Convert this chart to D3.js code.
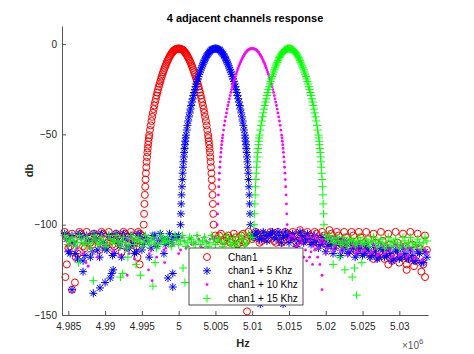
<!DOCTYPE html>
<html>
<head>
<meta charset="utf-8">
<script src="https://cdn.jsdelivr.net/npm/d3@7"></script>
<style>
  body { margin: 0; background: #fff; }
  text { font-family: "Liberation Sans", Arial, Helvetica, sans-serif; }
</style>
</head>
<body>
<div id="chart"></div>
<script>
// global constants
const WIDTH = 474;
const HEIGHT = 354;
const MARGIN = { top: 26, right: 46, bottom: 39, left: 62 };

// channels
const CHANNELS = ["Chan1", "chan1 + 5 Khz", "chan1 + 10 Khz", "chan1 + 15 Khz"];
const CENTERS_MHZ = [5.0, 5.005, 5.01, 5.015];
const MARKERS = ["circle", "asterisk", "dot", "plus"];
const COLORS = ["#ff0000", "#0000ff", "#ff00ff", "#00ff00"];

// ticks
const X_TICKS = [4.985, 4.99, 4.995, 5.0, 5.005, 5.01, 5.015, 5.02, 5.025, 5.03];
const Y_TICKS = [0, -50, -100, -150];

// main lobe, one side (offset from channel centre in kHz, level in dB)
const LOBE_OFFSET_KHZ = [
  0, 0.1, 0.2, 0.3, 0.4, 0.5, 0.6, 0.7, 0.8, 0.9,
  1.0, 1.1, 1.2, 1.3, 1.4, 1.5, 1.6, 1.7, 1.8, 1.9,
  2.0, 2.1, 2.2, 2.3, 2.4, 2.5, 2.6, 2.7, 2.8, 2.9,
  3.0, 3.1, 3.2, 3.3, 3.4, 3.5, 3.6, 3.7, 3.8, 3.9,
  4.0, 4.05, 4.1, 4.15, 4.2, 4.25, 4.3, 4.35, 4.4, 4.45,
  4.5, 4.55, 4.6, 4.65, 4.7, 4.75
];
const LOBE_DB = [
  -2.5, -2.5, -2.6, -2.7, -2.9, -3.1, -3.4, -3.8, -4.3, -4.8,
  -5.4, -6.0, -6.7, -7.5, -8.3, -9.2, -10.1, -11.1, -12.1, -13.2,
  -14.3, -15.5, -16.7, -18.0, -19.3, -20.7, -22.1, -23.6, -25.2, -26.8,
  -28.5, -30.3, -32.1, -34.0, -36.0, -38.1, -40.3, -42.6, -45.0, -47.6,
  -50.4, -52.0, -53.8, -55.7, -57.8, -60.0, -62.5, -65.2, -68.2, -71.5,
  -75.0, -79.0, -83.5, -88.5, -94.0, -100.0
];

// noise floor: kHz from 5 MHz, 1 kHz step, rows A..D shifted by a quarter kHz
const FLOOR_START_KHZ = -15.5;
const ROW_SHIFT_KHZ = [0, 0.25, 0.5, 0.75];

const redFloorA = [
  -104, -105, -104, -104, -105, -104, -104, -105, -104, -104,
  -104, null, null, null, null, null, null, null, null, null,
  null, -106, -107, -105, -106, -104, -104, -105, -104, -104,
  -104, -104, -103, -104, -104, -104, -103, -104, -104, -104,
  -104, -104, -105, -104, -105, -104, -105, -104, -105, -106
];
const redFloorB = [
  -106, -108, -105, -107, -106, -105, -107, -106, -105, -106,
  -105, null, null, null, null, null, null, null, null, null,
  null, -105, -106, -107, -105, -106, -105, -106, -105, -106,
  -105, -106, -105, -106, -105, -106, -105, -106, -107, -106,
  -107, -108, -110, -109, -111, -110, -112, -111, -113, -114
];
const redFloorC = [
  -113, -118, -112, -110, -109, -108, -111, -108, -107, -110,
  -106, null, null, null, null, null, null, null, null, null,
  -106, -109, -110, -111, -110, -108, -110, -108, -109, -110,
  -108, -110, -109, -108, -110, -111, -112, -110, -112, -114,
  -114, -116, -118, -119, -120, -121, -122, -123, -126, null
];
const redFloorD = [
  -112, -116, -113, -111, -114, -110, -112, -115, -111, -112,
  null, null, null, null, null, null, null, null, null, null,
  -108, -109, -108, -110, -109, -107, -109, -108, -110, -109,
  -107, -109, -108, -110, -108, -109, -110, -111, -110, -112,
  -112, -114, -115, -116, -117, -118, -119, -120, -122, null
];
const redDips = [
  [-15.4, -129], [-14.1, -132], [-14.5, -136], [-15.2, -122], [-5.3, -122],
  [-5.6, -118], [9.3, -148], [28.5, -122], [33.5, -129], [31.0, -125], [26.5, -119]
];

const blueFloorA = [
  -105, -106, -105, -106, -105, -105, -106, -105, -105, -106,
  -105, -107, -106, -105, -108, -107, null, null, null, null,
  null, null, null, null, null, null, -104, -104, -105, -104,
  -104, -105, -104, -105, -106, -107, -108, -108, -109, -110,
  -111, -112, -112, -113, -113, -114, -113, -114, -115, -115
];
const blueFloorB = [
  -108, -110, -107, -109, -108, -110, -107, -109, -108, -110,
  -107, -109, -106, -108, -105, -107, null, null, null, null,
  null, null, null, null, null, null, -105, -106, -104, -106,
  -106, -107, -106, -108, -109, -110, -111, -110, -112, -113,
  -113, -114, -115, -114, -116, -115, -116, -117, -116, -118
];
const blueFloorC = [
  -115, -116, -120, -118, -114, -113, -117, -112, -113, -116,
  -114, -118, -112, -116, -110, -106, null, null, null, null,
  null, null, null, null, null, -106, -108, -109, -107, -110,
  -110, -112, -110, -111, -113, -115, -116, -117, -116, -118,
  -117, -118, -119, -118, -120, -119, -118, -120, -121, null
];
const blueFloorD = [
  -116, -119, -117, -115, -118, -114, -116, -118, -113, -115,
  -111, -113, -109, -111, -107, null, null, null, null, null,
  null, null, null, null, null, -107, -108, -106, -108, -107,
  -108, -109, -108, -110, -111, -112, -113, -114, -115, -116,
  -116, -117, -118, -117, -119, -118, -119, -120, -121, null
];
const blueDips = [
  [-11.6, -138], [-10.7, -135], [-10.0, -132], [-9.3, -129.5], [-14.5, -136],
  [-13.0, -126], [-9.1, -127], [-8.9, -125], [-1.45, -129.5], [-0.8, -134.5],
  [-0.8, -127], [11.1, -144], [14.2, -144]
];

const magentaFloorA = [
  -106, -107, -106, -106, -107, -106, -107, -106, -106, -107,
  -107, -106, -108, -106, -107, -106, -107, -108, -106, -107,
  -106, null, null, null, null, null, null, null, null, null,
  null, -106, -108, -107, -106, -108, -107, -108, -109, -110,
  -110, -109, -111, -110, -112, -111, -112, -113, -112, -114
];
const magentaFloorB = [
  -109, -111, -108, -110, -109, -112, -108, -110, -111, -109,
  -110, -108, -111, -109, -110, -108, -109, -111, -108, -109,
  -108, null, null, null, null, null, null, null, null, null,
  null, -107, -110, -109, -108, -110, -109, -110, -111, -112,
  -112, -111, -113, -112, -114, -113, -114, -115, -114, -116
];
const magentaFloorC = [
  -112, -114, -116, -113, -118, -112, -115, -117, -113, -119,
  -113, -116, -118, -114, -112, -116, -113, -115, -112, -110,
  -107, null, null, null, null, null, null, null, null, null,
  -108, -112, -118, -115, -113, -116, -114, -115, -117, -116,
  -115, -116, -117, -116, -118, -117, -118, -119, -120, null
];
const magentaFloorD = [
  -111, -113, -110, -115, -112, -110, -114, -111, -116, -112,
  -112, -114, -110, -113, -111, -114, -112, -110, -113, -108,
  null, null, null, null, null, null, null, null, null, null,
  -106, -111, -114, -112, -110, -113, -112, -113, -114, -115,
  -114, -115, -116, -115, -117, -116, -117, -118, -119, null
];
const magentaDips = [
  [18.5, -114], [18.9, -118], [19.2, -122], [19.5, -128], [19.5, -136],
  [17.8, -118], [16.8, -118], [18.2, -122], [17.4, -120], [-7.0, -128],
  [-3.6, -131], [-12.6, -121], [-12.3, -123], [-1.9, -121], [-4.1, -125]
];

const greenFloorA = [
  -106, -107, -106, -107, -106, -107, -106, -106, -107, -106,
  -107, -106, -107, -106, -107, -106, -106, -107, -106, -107,
  -106, -107, -106, -107, -106, -105, null, null, null, null,
  null, null, null, null, null, null, -106, -107, -107, -108,
  -107, -108, -107, -108, -107, -108, -107, -107, -108, -107
];
const greenFloorB = [
  -108, -109, -108, -110, -108, -109, -108, -109, -110, -108,
  -109, -108, -110, -108, -109, -108, -109, -108, -109, -110,
  -108, -109, -108, -110, -108, -107, null, null, null, null,
  null, null, null, null, null, null, -108, -109, -110, -109,
  -109, -110, -109, -110, -109, -110, -109, -110, -110, -109
];
const greenFloorC = [
  -111, -112, -110, -113, -111, -112, -110, -112, -113, -111,
  -112, -111, -113, -110, -112, -111, -112, -110, -111, -112,
  -111, -112, -110, -112, -111, -107, null, null, null, null,
  null, null, null, null, null, -106, -110, -111, -112, -111,
  -111, -112, -112, -113, -112, -113, -112, -112, -113, null
];
const greenFloorD = [
  -109, -110, -111, -109, -110, -111, -109, -110, -111, -109,
  -110, -109, -111, -109, -110, -109, -110, -111, -109, -110,
  -109, -110, -111, -109, -110, null, null, null, null, null,
  null, null, null, null, null, -108, -109, -110, -109, -110,
  -110, -109, -110, -111, -110, -111, -110, -111, -110, null
];
const greenDips = [
  [-7.9, -129], [-5.2, -128], [-3.5, -134], [-3.2, -121], [-6.9, -118],
  [-7.6, -127], [-5.8, -122], [-11.6, -131], [-13.6, -121], [0.6, -124],
  [0.85, -132], [21.0, -122], [21.9, -118], [23.6, -129], [24.2, -139],
  [24.9, -121], [22.6, -125], [23.9, -124]
];

const FLOOR_ROWS = [
  [redFloorA, redFloorB, redFloorC, redFloorD],
  [blueFloorA, blueFloorB, blueFloorC, blueFloorD],
  [magentaFloorA, magentaFloorB, magentaFloorC, magentaFloorD],
  [greenFloorA, greenFloorB, greenFloorC, greenFloorD]
];
const DIPS = [redDips, blueDips, magentaDips, greenDips];

function channelPoints(i) {
  const pts = [];
  const c = CENTERS_MHZ[i];
  FLOOR_ROWS[i].forEach((row, r) => {
    row.forEach((db, k) => {
      if (db === null) return;
      const f = 5 + (FLOOR_START_KHZ + k + ROW_SHIFT_KHZ[r]) / 1000;
      // the channel's own main lobe covers this span
      if (Math.abs(f - c) * 1000 < 4.8) return;
      pts.push({ f, db });
    });
  });
  DIPS[i].forEach(([k, db]) => pts.push({ f: 5 + k / 1000, db }));
  LOBE_OFFSET_KHZ.forEach((o, j) => {
    pts.push({ f: c - o / 1000, db: LOBE_DB[j] });
    if (o > 0) pts.push({ f: c + o / 1000, db: LOBE_DB[j] });
  });
  return pts;
}

const ASTERISK = "M-4,0L4,0M0,-4L0,4M-2.9,-2.9L2.9,2.9M-2.9,2.9L2.9,-2.9";
const PLUS = "M-4.1,0L4.1,0M0,-4.1L0,4.1";

function drawMarkers(sel, kind, color) {
  if (kind === "circle") {
    sel.append("circle").attr("r", 3.5).attr("fill", "none")
      .attr("stroke", color).attr("stroke-width", 1);
  } else if (kind === "dot") {
    sel.append("circle").attr("r", 1.4).attr("fill", color);
  } else {
    sel.append("path").attr("d", kind === "asterisk" ? ASTERISK : PLUS)
      .attr("fill", "none").attr("stroke", color).attr("stroke-width", 1);
  }
}

function render() {
  const w = WIDTH - MARGIN.left - MARGIN.right;
  const h = HEIGHT - MARGIN.top - MARGIN.bottom;

  const svg = d3.select("#chart").append("svg")
    .attr("width", WIDTH).attr("height", HEIGHT);
  const g = svg.append("g")
    .attr("transform", `translate(${MARGIN.left},${MARGIN.top})`);

  const x = d3.scaleLinear().domain([4.98414, 5.0339]).range([0, w]);
  const y = d3.scaleLinear().domain([-150, 10]).range([h, 0]);

  // scatter, in plotting order so green ends on top
  const plot = g.append("g");
  CHANNELS.forEach((name, i) => {
    const pts = channelPoints(i);
    const marks = plot.append("g").selectAll("g")
      .data(pts).join("g")
      .attr("transform", (d) => `translate(${x(d.f)},${y(d.db)})`);
    drawMarkers(marks, MARKERS[i], COLORS[i]);
  });

  // axes (MATLAB style: ticks pointing in)
  const styleAxis = (a) => {
    a.select(".domain").attr("stroke", "#555");
    a.selectAll(".tick line").attr("stroke", "#555");
    a.selectAll(".tick text").attr("fill", "#262626").attr("font-size", 10);
  };
  g.append("g")
    .attr("transform", `translate(0,${h})`)
    .call(d3.axisBottom(x).tickValues(X_TICKS).tickFormat(d3.format(".3~f"))
      .tickSizeInner(-4).tickSizeOuter(0).tickPadding(8))
    .call(styleAxis);
  g.append("g")
    .call(d3.axisLeft(y).tickValues(Y_TICKS)
      .tickSizeInner(-4).tickSizeOuter(0).tickPadding(5))
    .call(styleAxis);

  // labels
  svg.append("text")
    .attr("x", MARGIN.left + w / 2).attr("y", 22)
    .attr("text-anchor", "middle").attr("font-size", 11).attr("font-weight", "bold")
    .attr("fill", "#000")
    .text("4 adjacent channels response");
  svg.append("text")
    .attr("x", MARGIN.left + w / 2 - 2).attr("y", 347)
    .attr("text-anchor", "middle").attr("font-size", 11).attr("font-weight", "bold")
    .attr("fill", "#262626")
    .text("Hz");
  svg.append("text")
    .attr("transform", `translate(33,${MARGIN.top + h / 2}) rotate(-90)`)
    .attr("text-anchor", "middle").attr("font-size", 11).attr("font-weight", "bold")
    .attr("fill", "#262626")
    .text("db");
  const exp = svg.append("text")
    .attr("x", 402).attr("y", 349).attr("font-size", 10).attr("fill", "#555");
  exp.append("tspan").text("\u00d710");
  exp.append("tspan").attr("dy", -5).attr("font-size", 8).text("6");

  // legend
  const legend = svg.append("g").attr("transform", "translate(189,248)");
  legend.append("rect")
    .attr("width", 114).attr("height", 57)
    .attr("fill", "#fff").attr("stroke", "#262626").attr("stroke-width", 0.8);
  CHANNELS.forEach((name, i) => {
    const row = legend.append("g").attr("transform", `translate(0,${9 + i * 13.8})`);
    drawMarkers(row.append("g").attr("transform", "translate(18,0)"), MARKERS[i], COLORS[i]);
    row.append("text")
      .attr("x", 39).attr("y", 0).attr("dy", "0.35em")
      .attr("font-size", 10).attr("fill", "#000")
      .text(name);
  });
}

render();
</script>
</body>
</html>
